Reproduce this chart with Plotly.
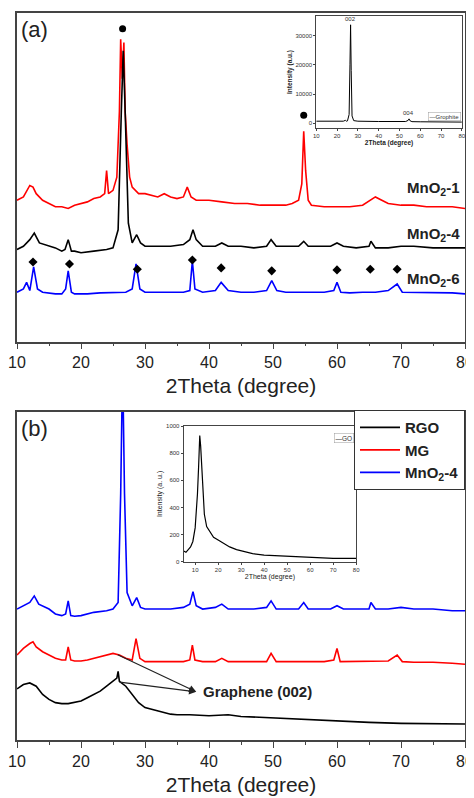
import plotly.graph_objects as go

# ---- panel (a): MnO2 samples (arbitrary stacked intensity, 0-100 axis units)
a_red_x = [10, 11, 12, 12.5, 13, 14, 15, 16, 17, 18, 19, 20, 21, 22, 23, 23.7, 24, 24.3, 25, 25.6, 26, 26.2, 26.45, 26.7, 26.9, 27.2, 27.6, 28,
           29, 30, 31, 32, 33, 34, 35, 36, 36.6, 37.2, 38, 40, 42, 44, 46, 48, 50, 52, 53, 54, 54.5, 54.8, 55.1, 55.5, 56, 58, 60, 62, 64,
           66, 67, 68, 70, 72, 74, 76, 78, 80]
a_red_y = [43, 44, 47.5, 47, 45, 43, 42, 41, 41, 40.5, 41.5, 42, 42.5, 43.5, 44, 45, 52, 45, 46, 50, 70, 92, 80, 91, 70, 60, 50, 47,
           45, 45, 44.5, 44, 45, 44, 43.5, 44, 47, 44, 43, 43, 42.5, 42, 42, 41.5, 41.5, 41.5, 42, 43, 48, 64, 52, 43, 41.5, 41, 41, 41, 41.5,
           44, 43, 42, 41.5, 41.5, 41, 41, 41, 40.5]

a_blk_x = [10, 11, 12, 12.7, 13.5, 15, 16, 17, 17.5, 18, 18.5, 19, 20, 22, 24, 25, 25.8, 26.3, 26.6, 26.9, 27.4, 28, 28.7, 29.3, 30, 32,
           34, 36, 37, 37.5, 38, 39, 41, 42, 43, 45, 47, 49, 49.7, 50.5, 52, 54, 54.8, 55.5, 57, 59, 60, 61, 63, 65, 65.3, 66, 68, 70,
           72, 75, 78, 80]
a_blk_y = [28, 29, 31, 33, 30, 29, 28.5, 27.5, 28, 31, 27.5, 27.5, 27, 27.5, 28, 28.5, 34, 70, 88.5, 70, 36, 30, 32.5, 30, 29, 29,
           29, 29.5, 31, 34, 31, 29, 29, 30, 29, 29, 28.5, 29, 31, 29, 29, 29, 30.5, 29, 29, 29, 30, 29, 28.5, 29, 30.5, 28.5, 28.5, 29,
           29, 28.5, 28.5, 28.5]

a_blu_x = [10, 11, 11.5, 12, 12.6, 13.2, 14, 16, 17, 17.6, 18, 18.5, 19, 21, 23, 25, 27, 28, 28.6, 29.2, 30, 32, 34, 36, 37, 37.4, 37.8,
           39, 41, 41.9, 43, 45, 47, 49, 49.8, 50.6, 52, 55, 58, 59.5, 60, 60.6, 62, 64, 66, 68, 69.4, 70.2, 72, 75, 78, 80]
a_blu_y = [15, 16, 18, 15.5, 22.7, 16, 15, 14.5, 14.5, 16, 21.5, 15, 14.5, 14.5, 14.8, 15, 15, 16, 23.6, 16, 15, 15, 15, 15, 15.5, 24.5, 16,
           15, 15.5, 18, 15.5, 15, 15, 15.5, 18.5, 15.5, 15, 15, 15, 15.5, 18, 15, 14.8, 15, 15, 15.5, 17.5, 15, 15, 14.8, 14.8, 14.5]

diamond_x = [12.5, 18.2, 28.8, 37.4, 41.9, 49.8, 60, 65.2, 69.4]
diamond_y = [24.2, 23.6, 22, 24.8, 22.4, 21.5, 21.8, 22, 22]
dot_x = [26.5, 54.8]
dot_y = [95.2, 68.9]

# ---- graphite inset
gr_x = [10, 15, 20, 23, 24, 24.5, 25, 25.8, 26.2, 26.5, 26.8, 27.2, 28, 30, 40, 50, 53, 54.2, 54.6, 55, 56, 60, 70, 80]
gr_y = [700, 650, 650, 700, 1000, 700, 800, 3000, 20000, 33700, 18000, 2500, 900, 700, 600, 550, 600, 1000, 1500, 900, 550, 500, 450, 400]

# ---- panel (b)
b_blu_x = [10, 11, 12, 12.7, 13.4, 15, 16, 17, 17.6, 18, 18.4, 19, 20, 22, 24, 25, 25.8, 26.2, 26.5, 26.8, 27.2, 28, 28.7, 29.3, 30, 32,
           34, 36, 37, 37.5, 38, 39, 41, 42, 43, 45, 47, 49, 49.7, 50.5, 52, 54, 54.8, 55.5, 57, 59, 60, 61, 63, 65, 65.3, 66, 68, 70,
           72, 75, 78, 80]
b_blu_y = [40, 41, 42, 44, 41.5, 40, 38.5, 38, 38.5, 42.5, 38, 37.8, 38, 39, 39.5, 40, 42, 75, 115, 75, 45, 41, 43.5, 40.5, 40, 40,
           40, 40.5, 41.5, 45.3, 41, 40, 40.5, 41.5, 40, 40, 40, 40.5, 42.5, 40, 40, 40, 42, 40, 40, 40, 41, 40, 40, 40, 42, 40, 40, 40.5,
           40, 40, 39.5, 39.5]

b_red_x = [10, 11, 12, 12.5, 13, 14, 15, 16, 17, 17.6, 18, 18.4, 19, 20, 21, 22, 23, 24, 25, 26, 27, 28, 28.6, 29.2, 30, 32, 34, 36,
           37, 37.4, 37.8, 39, 41, 42, 43, 45, 47, 49, 49.7, 50.5, 52, 55, 58, 59.5, 60, 60.5, 62, 64, 66, 68, 69.4, 70.2, 72, 75, 78, 80]
b_red_y = [26, 28, 29.5, 30, 28.5, 27, 26, 25, 24.5, 24.5, 28.5, 24.5, 24.2, 24.2, 24.5, 25, 25.5, 26, 26.5, 26, 25, 24.5, 31, 25, 24, 24,
           24, 24, 24.5, 29, 24.5, 24, 24, 25, 24, 24, 24, 24, 26.5, 24, 24, 24, 24, 24.5, 28, 24, 24, 24, 24, 24.2, 26, 24, 23.8, 23.8, 23.5, 23.2]

b_blk_x = [10, 11, 12, 13, 14, 15, 16, 17, 18, 19, 20, 21, 22, 23, 24, 25, 25.6, 25.8, 26, 27, 28, 29, 30, 31, 32, 33, 34, 35, 37, 40,
           43, 45, 48, 50, 55, 60, 65, 70, 75, 80]
b_blk_y = [15.7, 17, 17.5, 16.5, 14, 12.5, 11.5, 11.2, 11.2, 11.5, 12, 13, 14, 15, 16.5, 18, 19, 21, 18, 16.5, 14, 11.5, 10, 9.5, 9, 8.5,
           8, 7.8, 7.8, 7.5, 7.8, 7.3, 7, 6.8, 6.3, 5.8, 5.5, 5.2, 5.2, 5]

# ---- GO inset
go_x = [5, 6, 8, 9, 10, 10.5, 11, 11.5, 12, 12.4, 12.8, 13.2, 13.6, 14, 15, 16, 17, 18, 20, 22, 25, 28, 30, 35, 40, 45, 50, 55, 60, 65, 70, 75, 80]
go_y = [80, 70, 110, 150, 250, 350, 500, 700, 930, 850, 720, 600, 450, 350, 260, 230, 200, 180, 160, 140, 110, 90, 80, 60, 50, 45, 40, 35, 30, 28, 25, 25, 25]

FONT = "Liberation Sans"
frame = "#444444"

fig = go.Figure()

def line(x, y, color, xa, ya, name=None, show=False, width=1.6):
    fig.add_trace(go.Scatter(x=x, y=y, mode="lines", line=dict(color=color, width=width),
                             xaxis=xa, yaxis=ya, name=name, showlegend=show, hoverinfo="skip"))

line(a_red_x, a_red_y, "red", "x", "y")
line(a_blk_x, a_blk_y, "black", "x", "y")
line(a_blu_x, a_blu_y, "blue", "x", "y")
fig.add_trace(go.Scatter(x=diamond_x, y=diamond_y, mode="markers", xaxis="x", yaxis="y", showlegend=False,
                         marker=dict(symbol="diamond", size=7, color="black")))
fig.add_trace(go.Scatter(x=dot_x, y=dot_y, mode="markers", xaxis="x", yaxis="y", showlegend=False,
                         marker=dict(symbol="circle", size=7, color="black")))

line(gr_x, gr_y, "black", "x3", "y3", width=1)

line(b_blk_x, b_blk_y, "black", "x2", "y2", "<b>RGO</b>", True)
line(b_red_x, b_red_y, "red", "x2", "y2", "<b>MG</b>", True)
line(b_blu_x, b_blu_y, "blue", "x2", "y2", "<b>MnO<sub>2</sub>-4</b>", True)

line(go_x, go_y, "black", "x4", "y4", width=1.2)

main_x = dict(range=[10, 80], showline=True, linecolor=frame, linewidth=1.5, mirror=True, ticks="outside",
              tickvals=[10, 20, 30, 40, 50, 60, 70, 80], ticklen=6, tickcolor=frame,
              minor=dict(dtick=5, ticks="outside", ticklen=3, tickcolor=frame),
              tickfont=dict(size=16, family=FONT, color="#222"), showgrid=False, zeroline=False,
              title=dict(text="2Theta (degree)", font=dict(size=21, family=FONT, color="#222"), standoff=8))
main_y = dict(range=[0, 100], showline=True, linecolor=frame, linewidth=1.5, mirror=True,
              showticklabels=False, ticks="", showgrid=False, zeroline=False)
ins = dict(showline=True, linecolor=frame, linewidth=1, mirror=True, ticks="outside", ticklen=2,
           tickfont=dict(size=6, family=FONT, color="#333"), showgrid=False, zeroline=False)

fig.update_layout(
    width=474, height=798, margin=dict(l=9, r=17, t=0, b=0),
    font=dict(family=FONT, color="#222"),
    paper_bgcolor="white", plot_bgcolor="white",
    xaxis=dict(main_x, domain=[0, 1], anchor="y"),
    yaxis=dict(main_y, domain=[0.5827, 0.9975], anchor="x"),
    xaxis2=dict(main_x, domain=[0, 1], anchor="y2"),
    yaxis2=dict(main_y, domain=[0.079, 0.4937], anchor="x2"),
    xaxis3=dict(ins, domain=[0.668, 0.993], anchor="y3", range=[10, 80], dtick=10,
                title=dict(text="<b>2Theta (degree)</b>", font=dict(size=6.5, family=FONT), standoff=2)),
    yaxis3=dict(ins, domain=[0.852, 0.994], anchor="x3", range=[-1700, 36800], tickvals=[0, 10000, 20000, 30000],
                tickformat="d",
                title=dict(text="<b>Intensity (a.u.)</b>", font=dict(size=6.5, family=FONT), standoff=2)),
    xaxis4=dict(ins, domain=[0.372, 0.757], anchor="y4", range=[5, 80], tickvals=[10, 20, 30, 40, 50, 60, 70, 80],
                title=dict(text="2Theta (degree)", font=dict(size=7, family=FONT), standoff=2)),
    yaxis4=dict(ins, domain=[0.3045, 0.476], anchor="x4", range=[0, 1000], dtick=200,
                title=dict(text="Intensity (a. u.)", font=dict(size=7, family=FONT), standoff=2)),
    legend=dict(x=1.0, y=0.496, xanchor="right", yanchor="top", bgcolor="white", bordercolor="#333",
                borderwidth=1, font=dict(size=15, family=FONT, color="#222"), itemwidth=40,
                tracegroupgap=0),
)

ann = [
    dict(text="(a)", x=0.005, y=0.995, xref="paper", yref="paper", xanchor="left", yanchor="top", showarrow=False,
         font=dict(size=22, family=FONT, color="#222")),
    dict(text="(b)", x=0.005, y=0.491, xref="paper", yref="paper", xanchor="left", yanchor="top", showarrow=False,
         font=dict(size=22, family=FONT, color="#222")),
    dict(text="<b>MnO<sub>2</sub>-1</b>", x=79.5, y=46.5, xref="x", yref="y", xanchor="right", showarrow=False,
         font=dict(size=15, family=FONT, color="#222")),
    dict(text="<b>MnO<sub>2</sub>-4</b>", x=79.5, y=32.5, xref="x", yref="y", xanchor="right", showarrow=False,
         font=dict(size=15, family=FONT, color="#222")),
    dict(text="<b>MnO<sub>2</sub>-6</b>", x=79.5, y=18.8, xref="x", yref="y", xanchor="right", showarrow=False,
         font=dict(size=15, family=FONT, color="#222")),
    dict(text="002", x=26.5, y=34000, xref="x3", yref="y3", yanchor="bottom", showarrow=False,
         font=dict(size=6, family=FONT, color="#333")),
    dict(text="004", x=54.5, y=1800, xref="x3", yref="y3", yanchor="bottom", showarrow=False,
         font=dict(size=6, family=FONT, color="#333")),
    dict(text="—Grophite", x=79.5, y=900, xref="x3", yref="y3", xanchor="right", yanchor="bottom", showarrow=False,
         font=dict(size=6, family=FONT, color="#333"), bordercolor="#999", borderwidth=0.5, borderpad=1),
    dict(text="—GO", x=79, y=950, xref="x4", yref="y4", xanchor="right", yanchor="top", showarrow=False,
         font=dict(size=6.5, family=FONT, color="#333"), bordercolor="#999", borderwidth=0.5, borderpad=1),
    dict(text="<b>Graphene (002)</b>", x=38.8, y=14.8, xref="x2", yref="y2", xanchor="left", showarrow=False,
         font=dict(size=15, family=FONT, color="#222")),
]
for tx, ty in [(25.5, 26.3), (25.8, 17.8)]:
    ann.append(dict(x=38.0, y=14.8, ax=tx, ay=ty, xref="x2", yref="y2", axref="x2", ayref="y2", text="",
                    showarrow=True, arrowhead=2, arrowsize=1.2, arrowwidth=1.2, arrowcolor="#222"))
fig.update_layout(annotations=ann)

fig.write_html("out.html")
